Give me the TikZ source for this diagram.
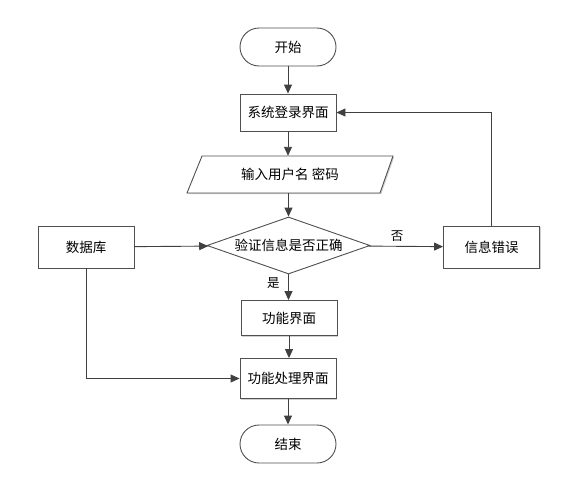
\documentclass[tikz,border=0pt]{standalone}
\usepackage{fontspec}
\setmainfont{Noto Sans CJK SC}
\usetikzlibrary{shapes.geometric,arrows.meta,shadows}
\definecolor{linec}{HTML}{404040}
\definecolor{boxc}{HTML}{505050}
\tikzset{
  every node/.style={font=\fontsize{13.5}{15}\selectfont, text=black},
  shad/.style={drop shadow={shadow xshift=1.2pt,shadow yshift=-1.2pt,fill=black!30,opacity=0.6}},
  procbox/.style={rectangle, draw=boxc, line width=0.9pt, fill=white, shad, minimum width=96pt, minimum height=40pt, inner sep=0pt},
  termbox/.style={rectangle, rounded corners=19pt, draw=boxc, line width=0.9pt, fill=white, minimum width=96pt, minimum height=38pt, inner sep=0pt},
  decbox/.style={diamond, aspect=2.86, draw=boxc, line width=0.9pt, fill=white, minimum width=163pt, minimum height=57pt, inner sep=0pt},
  conn/.style={draw=linec, line width=0.9pt, -{Triangle[length=9pt,width=8pt]}},
  lbl/.style={font=\fontsize{12.5}{14}\selectfont}
}
\begin{document}
\begin{tikzpicture}[x=1pt,y=-1pt]
\useasboundingbox[fill=white] (0,0) rectangle (586,479);
\node[termbox] (start) at (288,47) {开始};
\node[procbox, minimum height=37pt] (login) at (288,112.5) {系统登录界面};
\draw[boxc, line width=0.9pt, fill=white, shad] (187,193) -- (202,156) -- (393,156) -- (380,193) -- cycle;
\node[rectangle, minimum width=178pt, minimum height=37pt, inner sep=0pt] (input) at (290,174.5) {输入用户名 密码};
\node[decbox] (dec) at (288.5,245.5) {验证信息是否正确};
\node[procbox, minimum height=42pt] (db) at (86,247) {数据库};
\node[procbox, minimum height=42pt] (err) at (491.5,247) {信息错误};
\node[procbox, minimum height=35pt] (func) at (289,318) {功能界面};
\node[procbox] (proc) at (288,378.5) {功能处理界面};
\node[termbox] (end) at (288,444) {结束};

\draw[conn] (start) -- (login);
\draw[conn] (login) -- (login.south |- input.north);
\draw[conn] (input.south -| dec.north) -- (dec.north);
\draw[conn] (db) -- (dec);
\draw[conn] (dec) -- node[lbl, pos=0.38, above=1pt] {否} (err);
\draw[conn] (dec.south) -- node[lbl, pos=0.35, left=5pt] {是} (func.north -| dec.south);
\draw[conn] (func) -- (func |- proc.north);
\draw[conn] (db.south) |- (proc.west);
\draw[conn] (err.north) |- (login.east);
\draw[conn] (proc) -- (end);
\end{tikzpicture}
\end{document}
